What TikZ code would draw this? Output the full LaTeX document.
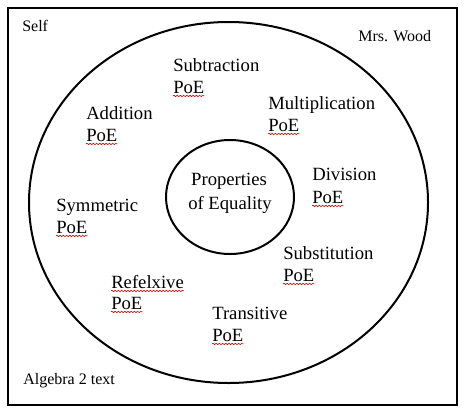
\documentclass[tikz,border=0pt]{standalone}
\usepackage{fontspec}
\setmainfont{Liberation Serif}
\usetikzlibrary{decorations.pathmorphing}
\begin{document}
\begin{tikzpicture}[x=0.75pt,y=-0.75pt,
  lbl/.style={anchor=base west,inner sep=0pt,font=\fontsize{14}{16}\selectfont},
  small/.style={anchor=base west,inner sep=0pt,font=\fontsize{12}{14}\selectfont},
  ctr/.style={anchor=base,inner sep=0pt,font=\fontsize{14}{16}\selectfont},
  squig/.style={draw=red!85!black,line width=0.45pt,decorate,decoration={snake,amplitude=0.55pt,segment length=2.4pt}},
  frame/.style={draw=black,line width=1.6pt},
  ring/.style={draw=black,line width=1.5pt}]
\useasboundingbox (0,0) rectangle (466,414);
\fill[white] (0,0) rectangle (466,414);
\draw[frame] (8,8) rectangle (457,405);
\draw[ring] (228.5,202.5) ellipse [x radius=199.5, y radius=180.5];
\draw[ring] (230,197) ellipse [x radius=64, y radius=57];

\node[small] (self) at (22,31) {Self};
\node[small] (mrs) at (358,41) {Mrs. Wood};
\node[small] (alg) at (23,384) {Algebra 2 text};

\node[ctr] (pr1) at (229,185) {Properties};
\node[ctr] (pr2) at (230,209) {of Equality};

\node[lbl] (sub) at (173,71) {Subtraction};
\node[lbl] (p1) at (173,93) {PoE};
\node[lbl] (mul) at (268,109) {Multiplication};
\node[lbl] (p2) at (268,131) {PoE};
\node[lbl] (add) at (86,119) {Addition};
\node[lbl] (p3) at (86,141) {PoE};
\node[lbl] (div) at (312,180) {Division};
\node[lbl] (p4) at (312,203) {PoE};
\node[lbl] (sym) at (56,211) {Symmetric};
\node[lbl] (p5) at (56,233) {PoE};
\node[lbl] (sbs) at (283,259) {Substitution};
\node[lbl] (p6) at (283,281) {PoE};
\node[lbl] (ref) at (111,288) {Refelxive};
\node[lbl] (p7) at (111,309) {PoE};
\node[lbl] (tra) at (212,319) {Transitive};
\node[lbl] (p8) at (212,341) {PoE};

\foreach \n in {p1,p2,p3,p4,p5,p6,p7,p8,ref}{
  \draw[squig] ([yshift=-2.2pt]\n.base west) -- ([yshift=-2.2pt]\n.base east);
}
\end{tikzpicture}
\end{document}
